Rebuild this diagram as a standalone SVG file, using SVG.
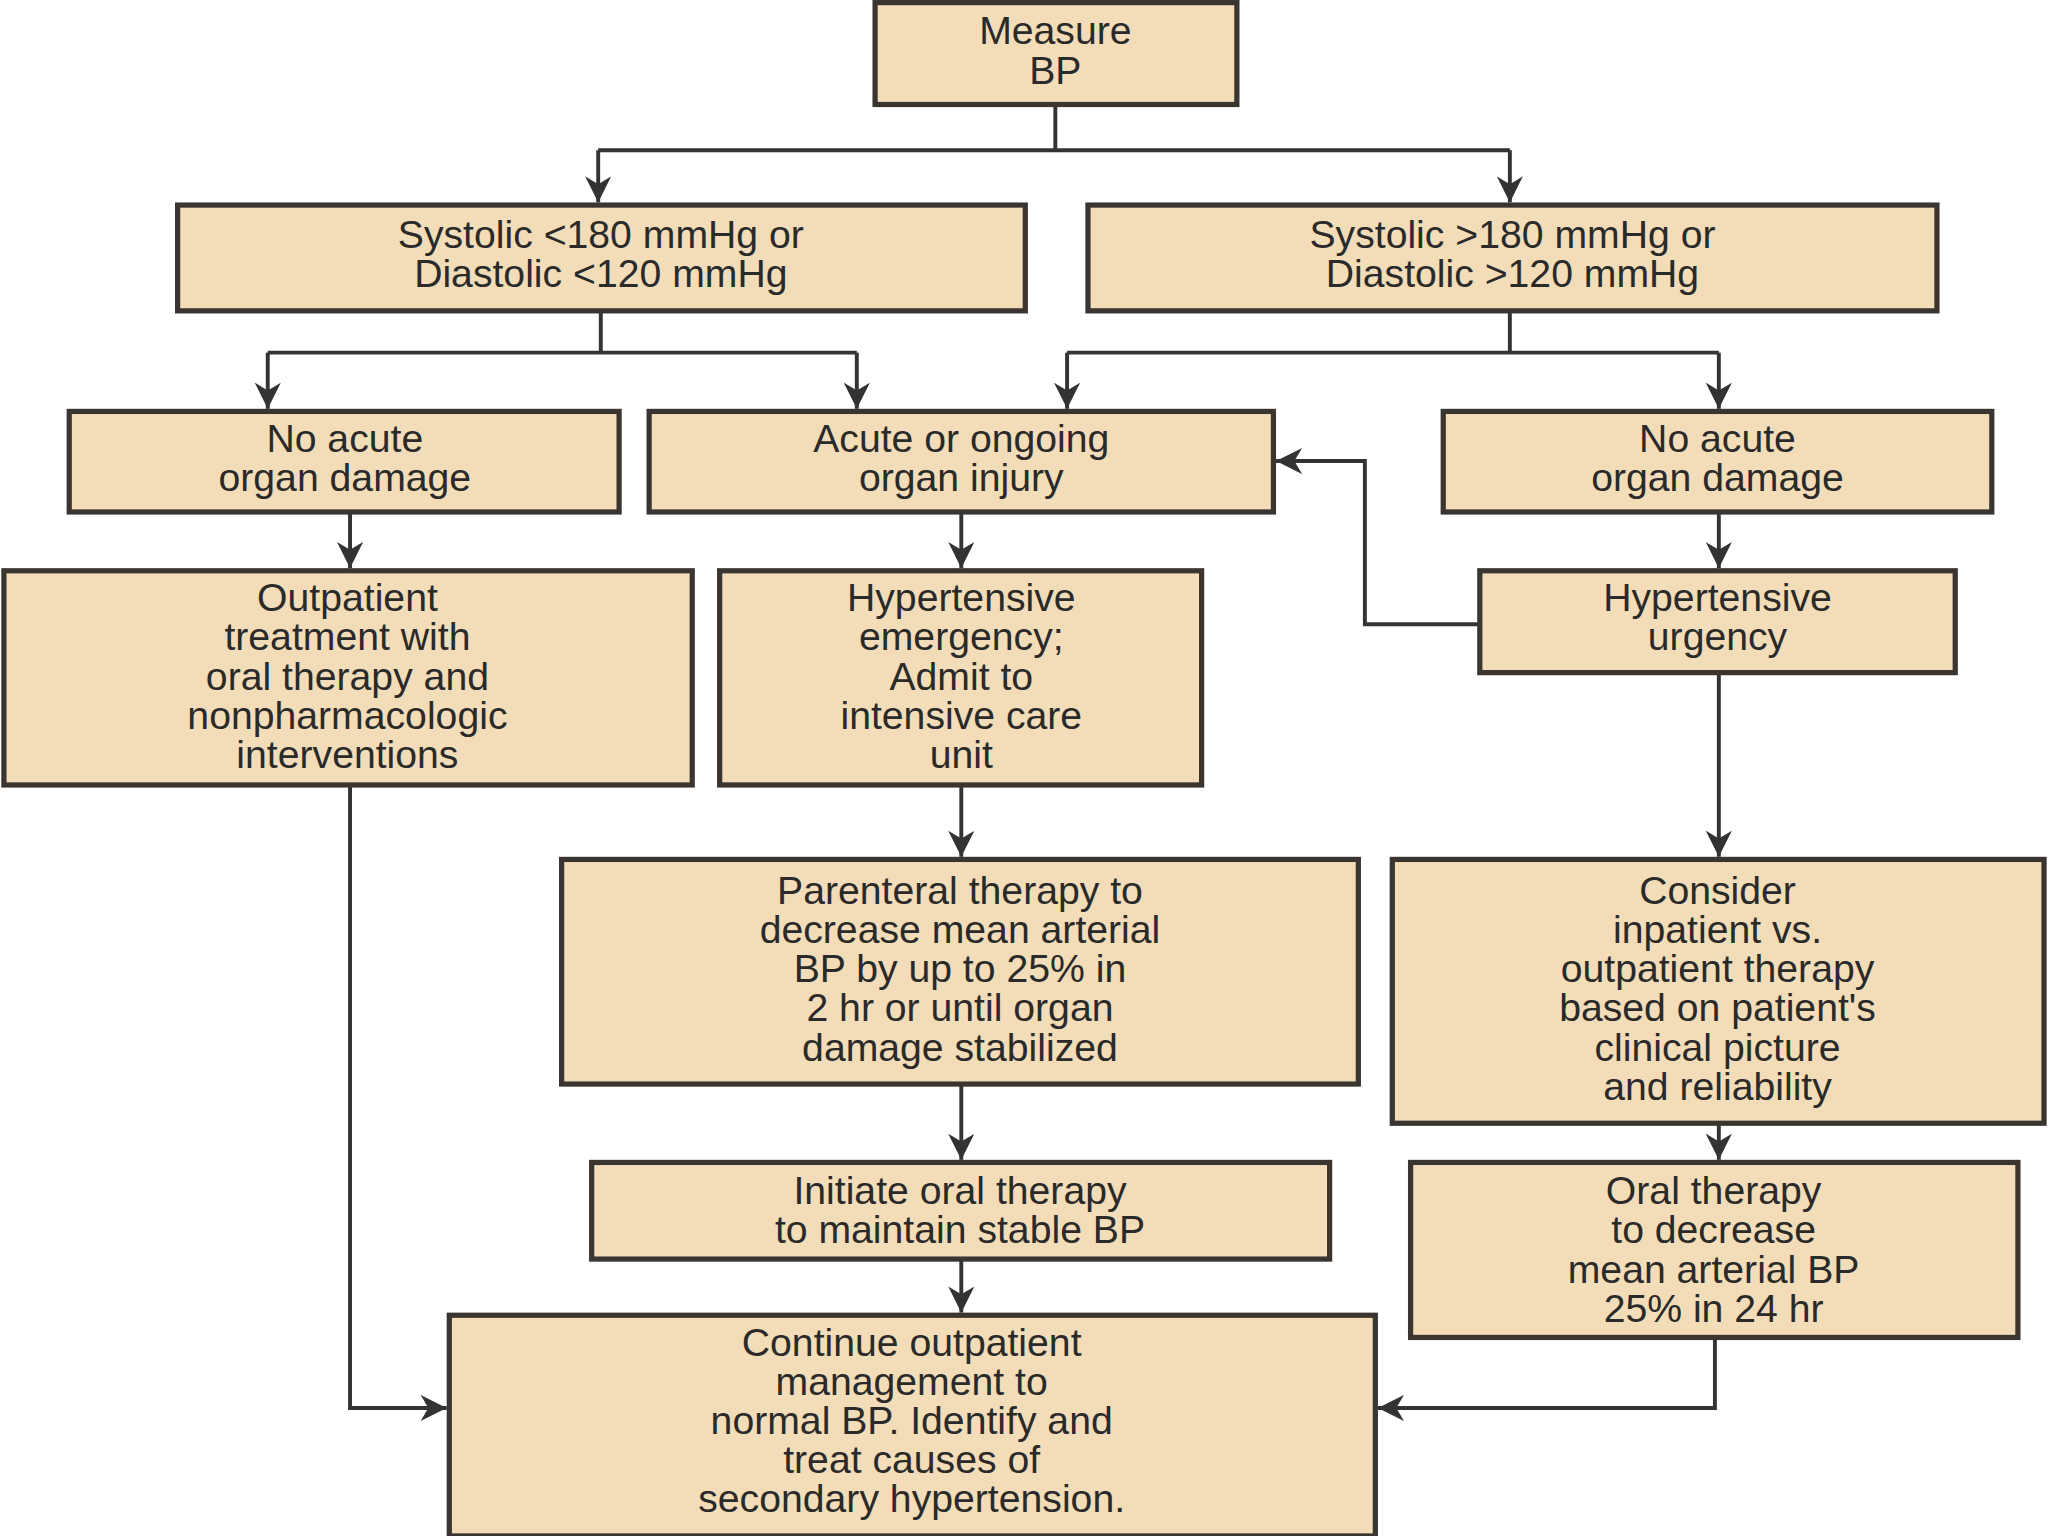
<svg xmlns="http://www.w3.org/2000/svg" width="2048" height="1536" viewBox="0 0 2048 1536">
<defs>
<marker id="ah" markerWidth="10" markerHeight="10" refX="9" refY="5" orient="auto" markerUnits="userSpaceOnUse"><path d="M0,0 L24,5 L0,10 Z" transform="scale(0.4,1) translate(0,0)" fill="#333"/></marker>
<marker id="a" viewBox="0 0 10 10" markerWidth="26" markerHeight="20" refX="10" refY="5" orient="auto" markerUnits="userSpaceOnUse"><path d="M0,0 L10,5 L0,10 L3,5 Z" fill="#333"/></marker>
<style>
rect{fill:#f2ddb8;stroke:#3a3530;stroke-width:4}
text{font-family:"Liberation Sans",Arial,sans-serif;font-size:30px;fill:#2a2a2a;text-anchor:middle}
.c path{fill:none;stroke:#333;stroke-width:3}
</style>
</defs>
<rect x="0" y="0" width="2048" height="1536" style="fill:#fff;stroke:none"/>
<g transform="scale(1.3061)">
<g class="c">
<path d="M808,80 V115 M458,115 H1156" />
<path d="M458,115 V155" marker-end="url(#a)"/>
<path d="M1156,115 V155" marker-end="url(#a)"/>
<path d="M460,238 V270 M205,270 H656"/>
<path d="M205,270 V313" marker-end="url(#a)"/>
<path d="M656,270 V313" marker-end="url(#a)"/>
<path d="M1156,238 V270 M817,270 H1316"/>
<path d="M817,270 V313" marker-end="url(#a)"/>
<path d="M1316,270 V313" marker-end="url(#a)"/>
<path d="M268,392 V435" marker-end="url(#a)"/>
<path d="M736,392 V435" marker-end="url(#a)"/>
<path d="M1316,392 V435" marker-end="url(#a)"/>
<path d="M1133,478 H1045 V353 H977" marker-end="url(#a)"/>
<path d="M1316,515 V656" marker-end="url(#a)"/>
<path d="M736,601 V656" marker-end="url(#a)"/>
<path d="M736,830 V888" marker-end="url(#a)"/>
<path d="M1316,860 V888" marker-end="url(#a)"/>
<path d="M736,964 V1005" marker-end="url(#a)"/>
<path d="M268,601 V1078 H342" marker-end="url(#a)"/>
<path d="M1313,1024 V1078 H1055" marker-end="url(#a)"/>
</g>
<g id="n1"><rect x="670" y="2" width="277" height="78"/><text x="808" y="34">Measure</text><text x="808" y="64">BP</text></g>
<g id="n2"><rect x="136" y="157" width="649" height="81"/><text x="460" y="190">Systolic &lt;180 mmHg or</text><text x="460" y="220">Diastolic &lt;120 mmHg</text></g>
<g id="n3"><rect x="833" y="157" width="650" height="81"/><text x="1158" y="190">Systolic &gt;180 mmHg or</text><text x="1158" y="220">Diastolic &gt;120 mmHg</text></g>
<g id="n4"><rect x="53" y="315" width="421" height="77"/><text x="264" y="346">No acute</text><text x="264" y="376">organ damage</text></g>
<g id="n5"><rect x="497" y="315" width="478" height="77"/><text x="736" y="346">Acute or ongoing</text><text x="736" y="376">organ injury</text></g>
<g id="n6"><rect x="1105" y="315" width="420" height="77"/><text x="1315" y="346">No acute</text><text x="1315" y="376">organ damage</text></g>
<g id="n7"><rect x="3" y="437" width="527" height="164"/><text x="266" y="468">Outpatient</text><text x="266" y="498">treatment with</text><text x="266" y="528">oral therapy and</text><text x="266" y="558">nonpharmacologic</text><text x="266" y="588">interventions</text></g>
<g id="n8"><rect x="551" y="437" width="369" height="164"/><text x="736" y="468">Hypertensive</text><text x="736" y="498">emergency;</text><text x="736" y="528">Admit to</text><text x="736" y="558">intensive care</text><text x="736" y="588">unit</text></g>
<g id="n9"><rect x="1133" y="437" width="364" height="78"/><text x="1315" y="468">Hypertensive</text><text x="1315" y="498">urgency</text></g>
<g id="n10"><rect x="430" y="658" width="610" height="172"/><text x="735" y="692">Parenteral therapy to</text><text x="735" y="722">decrease mean arterial</text><text x="735" y="752">BP by up to 25% in</text><text x="735" y="782">2 hr or until organ</text><text x="735" y="812">damage stabilized</text></g>
<g id="n11"><rect x="1066" y="658" width="499" height="202"/><text x="1315" y="692">Consider</text><text x="1315" y="722">inpatient vs.</text><text x="1315" y="752">outpatient therapy</text><text x="1315" y="782">based on patient's</text><text x="1315" y="812">clinical picture</text><text x="1315" y="842">and reliability</text></g>
<g id="n12"><rect x="453" y="890" width="565" height="74"/><text x="735" y="922">Initiate oral therapy</text><text x="735" y="952">to maintain stable BP</text></g>
<g id="n13"><rect x="1080" y="890" width="465" height="134"/><text x="1312" y="922">Oral therapy</text><text x="1312" y="952">to decrease</text><text x="1312" y="982">mean arterial BP</text><text x="1312" y="1012">25% in 24 hr</text></g>
<g id="n14"><rect x="344" y="1007" width="709" height="169"/><text x="698" y="1038">Continue outpatient</text><text x="698" y="1068">management to</text><text x="698" y="1098">normal BP. Identify and</text><text x="698" y="1128">treat causes of</text><text x="698" y="1158">secondary hypertension.</text></g>
</g>
</svg>
